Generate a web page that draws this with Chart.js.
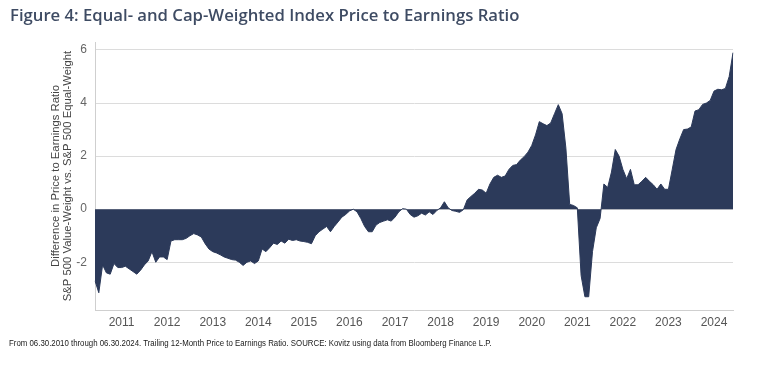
<!DOCTYPE html>
<html>
<head>
<meta charset="utf-8">
<script src="https://cdn.jsdelivr.net/npm/chart.js@4.4.1/dist/chart.umd.min.js"></script>
<style>
  html, body { margin: 0; padding: 0; background: #fff; }
  #wrap { width: 768px; height: 367px; position: relative; }
  #source {
    position: absolute; left: 9px; top: 338px;
    font: 9px/10px 'Liberation Sans', Arial, sans-serif;
    color: #1a1a1a; white-space: nowrap;
    transform: scaleX(0.872); transform-origin: left center;
  }
</style>
</head>
<body>
<div id="wrap">
  <canvas id="peChart" width="768" height="367"></canvas>
  <div id="source">From 06.30.2010 through 06.30.2024. Trailing 12-Month Price to Earnings Ratio. SOURCE: Kovitz using data from Bloomberg Finance L.P.</div>
</div>
<script>
// monthly series, 06.2010 -> 06.2024
const startYear = 2010;
const startMonth = 6;
const peSpread = [
  -2.7, -3.15, -2.1, -2.4, -2.45, -2.05, -2.2, -2.2, -2.15, -2.25,
  -2.35, -2.45, -2.3, -2.1, -1.95, -1.6, -2.0, -1.8, -1.8, -1.9,
  -1.2, -1.15, -1.15, -1.15, -1.1, -1.0, -0.92, -0.97, -1.05, -1.3,
  -1.5, -1.6, -1.65, -1.72, -1.8, -1.85, -1.9, -1.92, -2.0, -2.12,
  -2.0, -1.95, -2.05, -1.95, -1.5, -1.6, -1.45, -1.28, -1.33, -1.2,
  -1.28, -1.13, -1.18, -1.15, -1.2, -1.22, -1.25, -1.3, -1.0, -0.85,
  -0.75, -0.65, -0.85, -0.65, -0.48, -0.3, -0.2, -0.07, 0.0, -0.1,
  -0.35, -0.65, -0.85, -0.85, -0.6, -0.5, -0.45, -0.4, -0.45, -0.3,
  -0.1, 0.02, 0.0, -0.2, -0.3, -0.25, -0.15, -0.22, -0.1, -0.2,
  -0.05, 0.05, 0.28, 0.05, -0.05, -0.08, -0.12, -0.02, 0.35, 0.48,
  0.6, 0.75, 0.72, 0.6, 0.95, 1.2, 1.28, 1.2, 1.25, 1.5,
  1.65, 1.68, 1.85, 1.98, 2.15, 2.4, 2.8, 3.3, 3.22, 3.15,
  3.25, 3.6, 3.94, 3.6, 2.3, 0.18, 0.14, 0.05, -2.5, -3.3,
  -3.3, -1.6, -0.7, -0.35, 0.95, 0.82, 1.4, 2.25, 2.0, 1.5,
  1.15, 1.5, 0.92, 0.92, 1.05, 1.2, 1.05, 0.92, 0.75, 0.95,
  0.75, 0.75, 1.5, 2.25, 2.65, 3.0, 3.02, 3.1, 3.7, 3.75,
  3.95, 4.0, 4.1, 4.45, 4.52, 4.5, 4.55, 5.0, 5.9
];
const yTicks = [-2, 0, 2, 4, 6];
const xTickYears = ['2011', '2012', '2013', '2014', '2015', '2016', '2017',
                    '2018', '2019', '2020', '2021', '2022', '2023', '2024'];

// category labels like "2010-06"
const months = peSpread.map((v, i) => {
  const m = startMonth - 1 + i;
  return (startYear + Math.floor(m / 12)) + '-' + String(m % 12 + 1).padStart(2, '0');
});

const fillColor = '#2c3a5a';
const gridColor = '#dcdcdc';

new Chart(document.getElementById('peChart'), {
  type: 'line',
  data: {
    labels: months,
    datasets: [{
      data: peSpread,
      fill: 'origin',
      backgroundColor: fillColor,
      borderColor: fillColor,
      borderWidth: 1,
      pointRadius: 0,
      tension: 0
    }]
  },
  options: {
    responsive: false,
    animation: false,
    layout: { padding: { left: 10, right: 35, bottom: 32.6 } },
    plugins: {
      legend: { display: false },
      tooltip: { enabled: false },
      title: {
        display: true,
        text: 'Figure 4: Equal- and Cap-Weighted Index Price to Earnings Ratio',
        align: 'start',
        color: '#3e4b63',
        font: { family: "'Open Sans', sans-serif", size: 16.7, weight: '600' },
        padding: { top: 6, bottom: 16 }
      }
    },
    scales: {
      x: {
        grid: { display: false, drawTicks: false },
        border: { display: true, color: '#cfcfcf' },
        ticks: {
          autoSkip: false,
          maxRotation: 0,
          padding: 5,
          color: '#555',
          font: { family: "'Liberation Sans', Arial, sans-serif", size: 12 },
          callback: function(val) {
            const lab = this.getLabelForValue(val);
            const yr = lab.slice(0, 4);
            return lab.endsWith('-01') && xTickYears.includes(yr) ? yr : null;
          }
        }
      },
      y: {
        min: -3.8,
        max: 6.3,
        afterBuildTicks: axis => { axis.ticks = yTicks.map(v => ({ value: v })); },
        afterFit: axis => { axis.width = 85; },
        grid: { color: gridColor, drawTicks: false },
        border: { display: true, color: '#cfcfcf' },
        ticks: {
          padding: 8,
          color: '#666',
          font: { family: "'Liberation Sans', Arial, sans-serif", size: 12 }
        },
        title: {
          display: true,
          text: ['Difference in Price to Earnings Ratio', 'S&P 500 Value-Weight vs. S&P 500 Equal-Weight'],
          color: '#444',
          font: { family: "'Liberation Sans', Arial, sans-serif", size: 11.3, lineHeight: 1.06 },
          padding: { top: 40, bottom: 0 }
        }
      }
    }
  }
});
</script>
</body>
</html>
